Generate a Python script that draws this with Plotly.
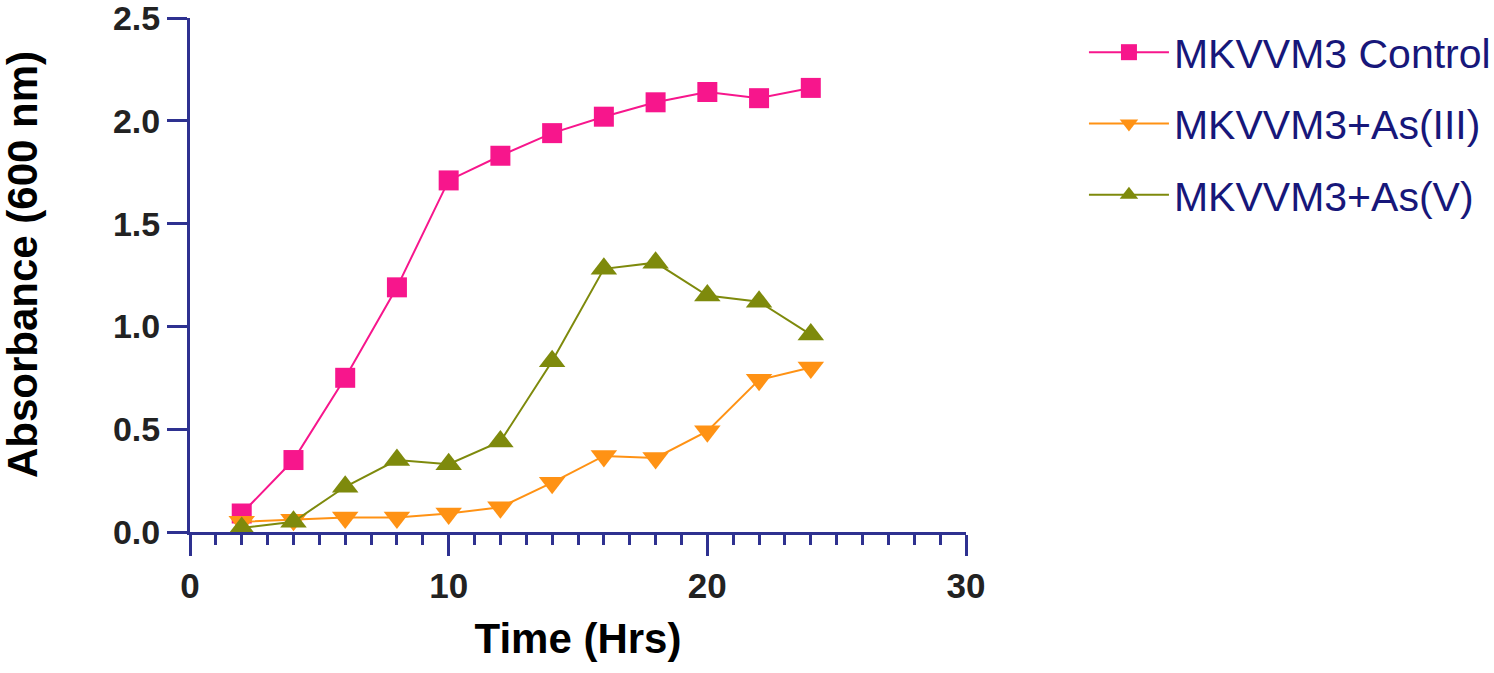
import plotly.graph_objects as go

time_hrs = [2, 4, 6, 8, 10, 12, 14, 16, 18, 20, 22, 24]
control = [0.09, 0.35, 0.75, 1.19, 1.71, 1.83, 1.94, 2.02, 2.09, 2.14, 2.11, 2.16]
as_iii = [0.05, 0.06, 0.07, 0.07, 0.09, 0.12, 0.24, 0.37, 0.36, 0.49, 0.74, 0.80]
as_v = [0.02, 0.05, 0.22, 0.35, 0.33, 0.44, 0.83, 1.28, 1.31, 1.15, 1.12, 0.96]

series_names = ["MKVVM3 Control", "MKVVM3+As(III)", "MKVVM3+As(V)"]
x_ticks = [0, 10, 20, 30]
y_ticks = [0.0, 0.5, 1.0, 1.5, 2.0, 2.5]

AXIS = "#2E3190"
FONT = "Liberation Sans, Arial, sans-serif"

fig = go.Figure()
specs = [
    (control, series_names[0], "#F7168C", "square", 20),
    (as_iii, series_names[1], "#FF9214", "triangle-down", 23),
    (as_v, series_names[2], "#7E8A0C", "triangle-up", 23),
]
for i, (vals, name, col, sym, sz) in enumerate(specs):
    fig.add_trace(go.Scatter(
        x=time_hrs, y=vals, name=name, mode="lines+markers",
        line=dict(color=col, width=2),
        marker=dict(color=col, symbol=sym, size=sz, line=dict(width=0)),
        cliponaxis=False, legendgroup=str(i),
    ))

fig.update_layout(
    width=1494, height=673,
    margin=dict(l=190, r=528, t=18, b=141, autoexpand=False),
    paper_bgcolor="white", plot_bgcolor="white",
    showlegend=True,
    legend=dict(
        x=1.152, y=0.998, xanchor="left", yanchor="top",
        font=dict(family=FONT, size=41, color="#17177A"),
        itemwidth=80, tracegroupgap=15, traceorder="grouped",
        bgcolor="rgba(0,0,0,0)",
    ),
    xaxis=dict(
        range=[0, 30], tickvals=x_ticks, ticktext=[str(v) for v in x_ticks],
        showline=True, linecolor=AXIS, linewidth=3,
        ticks="outside", ticklen=21, tickwidth=3, tickcolor=AXIS,
        minor=dict(dtick=1, ticks="outside", ticklen=10, tickwidth=3, tickcolor=AXIS),
        showgrid=False, zeroline=False, ticklabeloverflow="allow",
        tickfont=dict(family=FONT, size=35, color="#222222", weight="bold"),
        title=dict(text="Time (Hrs)", standoff=20,
                   font=dict(family=FONT, size=42, color="#000000", weight="bold")),
    ),
    yaxis=dict(
        range=[0, 2.5], tickvals=y_ticks, ticktext=[f"{v:.1f}" for v in y_ticks],
        showline=True, linecolor=AXIS, linewidth=3,
        ticks="outside", ticklen=20, tickwidth=3, tickcolor=AXIS,
        showgrid=False, zeroline=False, ticklabeloverflow="allow",
        tickfont=dict(family=FONT, size=34, color="#222222", weight="bold"),
    ),
    annotations=[dict(
        text="Absorbance (600 nm)", textangle=-90,
        xref="paper", yref="paper", x=-0.216, y=0.52,
        xanchor="center", yanchor="middle", showarrow=False,
        font=dict(family=FONT, size=42, color="#000000", weight="bold"),
    )],
)

fig.write_html("out.html")
